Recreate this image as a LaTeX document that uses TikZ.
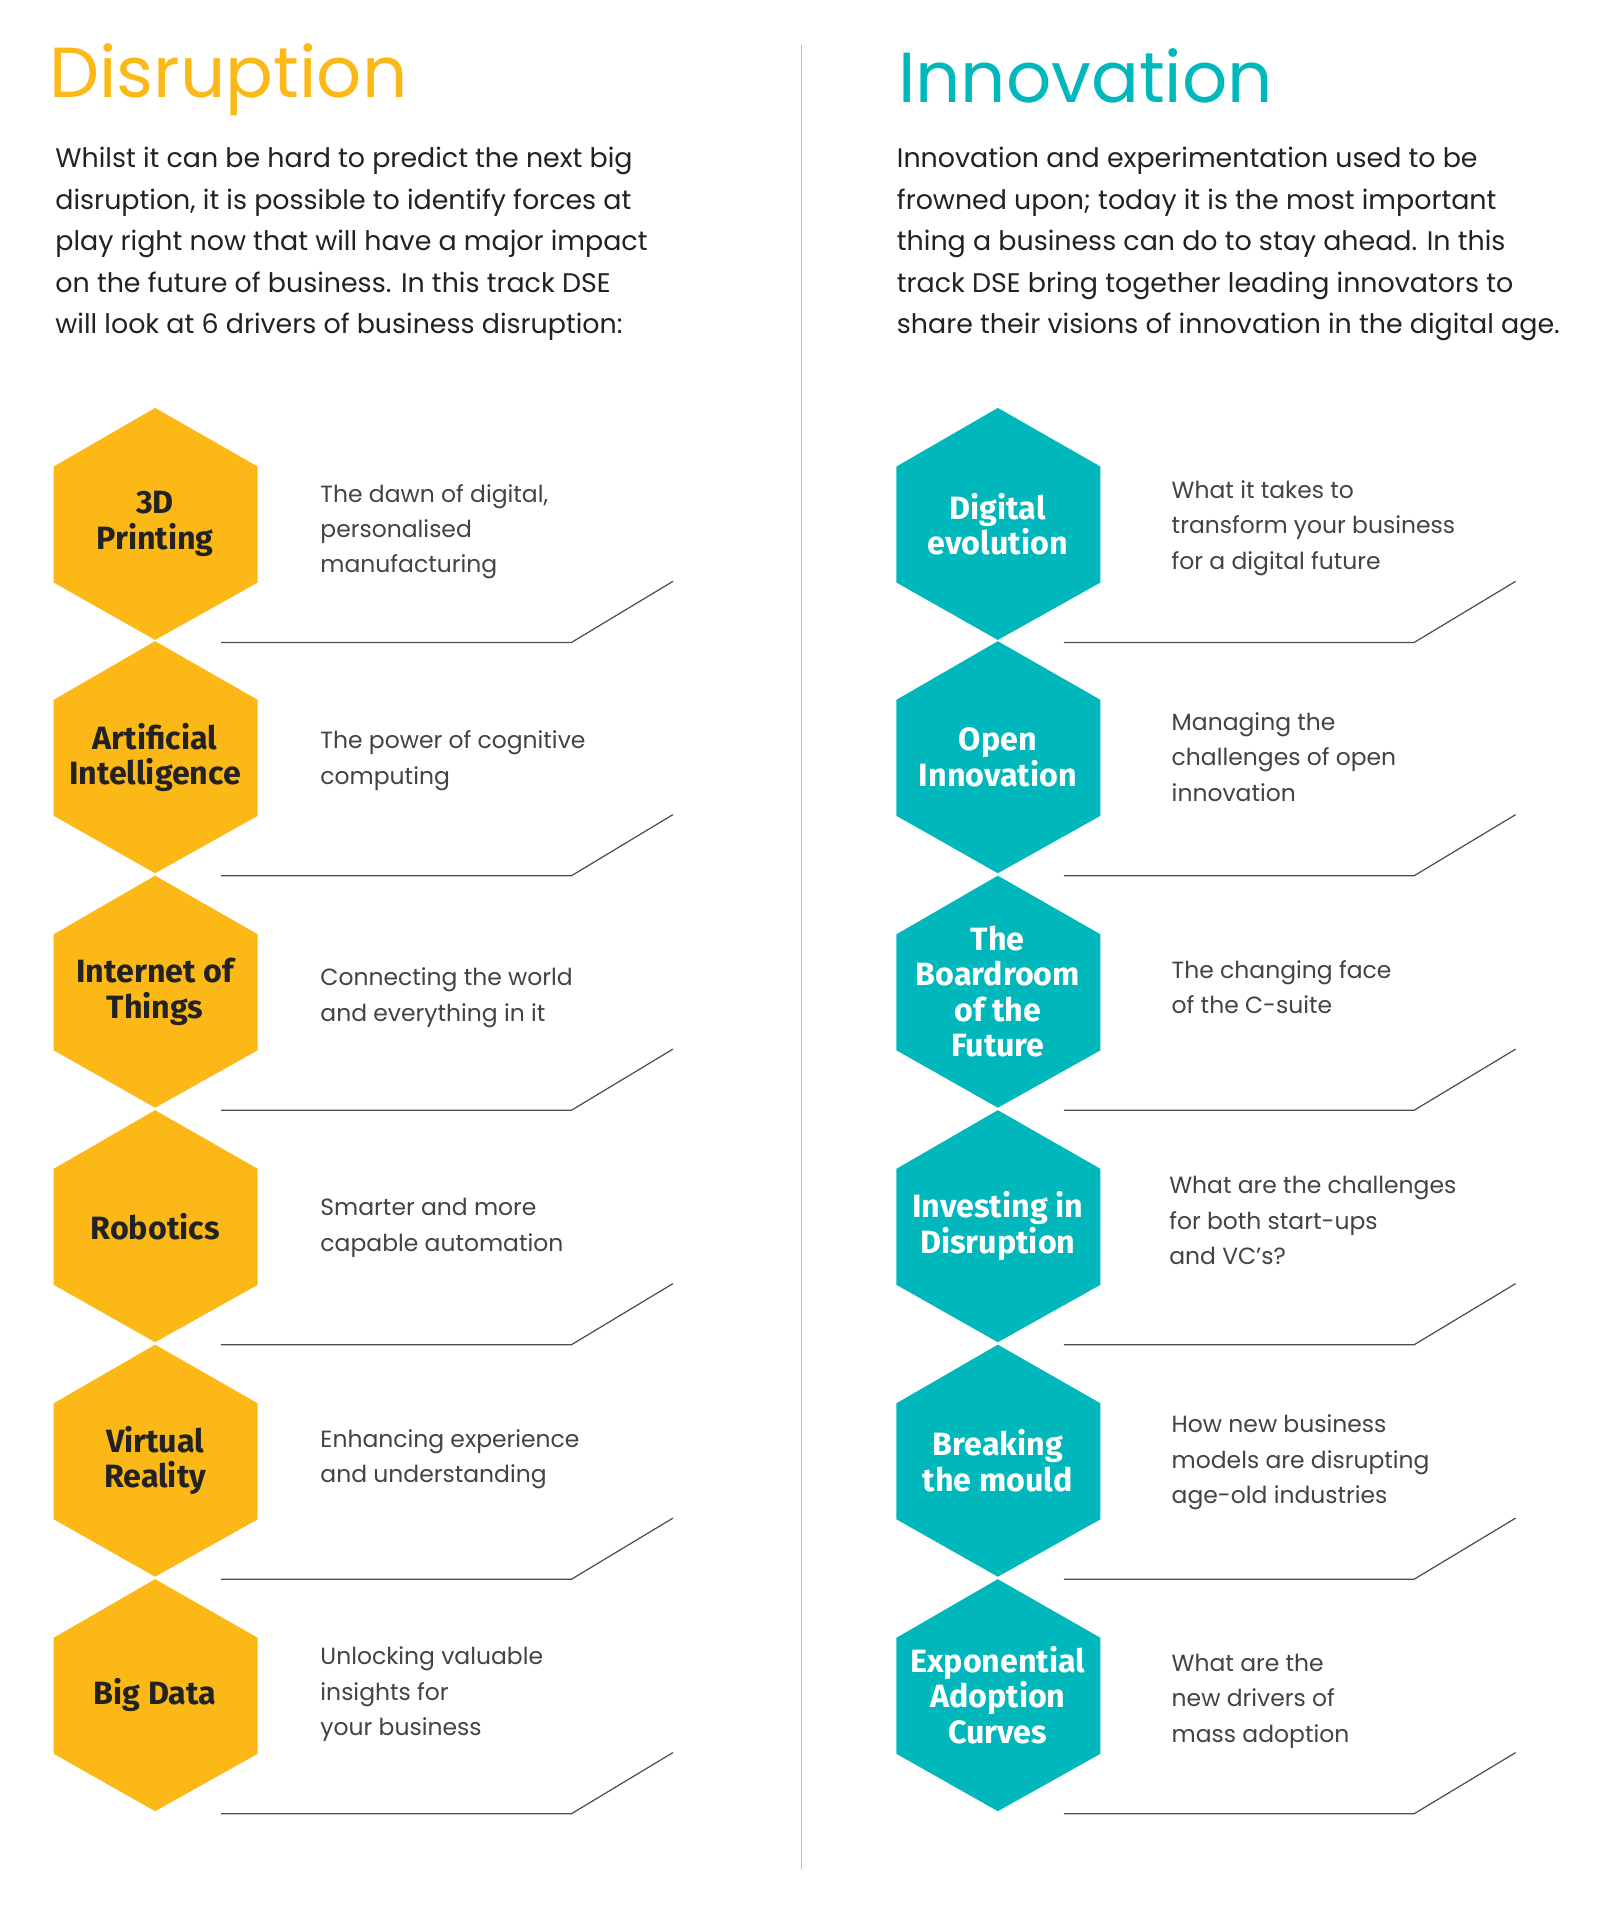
\documentclass[tikz,border=0pt]{standalone}
\usepackage{fontspec}
\setmainfont{Poppins}
\newfontfamily\hexfont{Fira Sans}
\definecolor{orng}{HTML}{FBB817}
\definecolor{teal}{HTML}{00B8BC}
\definecolor{txt}{HTML}{222222}
\begin{document}
\begin{tikzpicture}[x=0.5pt,y=-0.5pt,
  title/.style={anchor=base west,inner sep=0,font=\fontsize{29}{32}\selectfont},
  body/.style={anchor=north west,inner sep=0,align=left,text=txt,font=\fontsize{11}{17}\selectfont},
  desc/.style={anchor=north west,inner sep=0,align=left,text=txt!85,font=\fontsize{9.6}{14.5}\selectfont},
  lab/.style={inner sep=0,align=center,font=\hexfont\bfseries\fontsize{13.2}{14.5}\selectfont},
  conn/.style={draw=txt!80,line width=0.5pt}]
\useasboundingbox (0,0) rectangle (1310,1568);
\fill[white] (0,0) rectangle (1310,1568);
\draw[gray!50,line width=0.5pt] (656,37) -- (656,1530);
\node[title,text=orng] (t1) at (40,80) {Disruption};
\node[title,text=teal] (t2) at (735,84) {Innovation};
\node[body] (b1) at (45,120) {Whilst it can be hard to predict the next big\\disruption, it is possible to identify forces at\\play right now that will have a major impact\\on the future of business. In this track DSE\\will look at 6 drivers of business disruption:};
\node[body] (b2) at (734,120) {Innovation and experimentation used to be\\frowned upon; today it is the most important\\thing a business can do to stay ahead. In this\\track DSE bring together leading innovators to\\share their visions of innovation in the digital age.};
\newcommand{\hexrow}[9]{%
 % #1 name, #2 cx, #3 cy, #4 colour, #5 text colour, #6 label, #7 desc x, #8 desc y, #9 desc
 \fill[#4] (#2,#3-95) -- (#2+84,#3-47) -- (#2+84,#3+48) -- (#2,#3+95) -- (#2-83,#3+48) -- (#2-83,#3-47) -- cycle;
 \node[lab,text=#5] (#1) at (#2,#3) {#6};
 \node[desc] (#1d) at (#7,#8-8) {#9};
 \coordinate (#1a) at (#2+54,#3+97);
 \coordinate (#1b) at (#2+341,#3+97);
 \coordinate (#1c) at (#2+424,#3+47);
 \draw[conn] (#1a) -- (#1b) -- (#1c);}
\hexrow{l1}{127}{429}{orng}{txt}{3D\\Printing}{262}{404}{The dawn of digital,\\personalised\\manufacturing}
\hexrow{l2}{127}{620}{orng}{txt}{Artificial\\Intelligence}{262}{606}{The power of cognitive\\computing}
\hexrow{l3}{127}{812}{orng}{txt}{Internet of\\Things}{262}{800}{Connecting the world\\and everything in it}
\hexrow{l4}{127}{1004}{orng}{txt}{Robotics}{262}{989}{Smarter and more\\capable automation}
\hexrow{l5}{127}{1196}{orng}{txt}{Virtual\\Reality}{262}{1178}{Enhancing experience\\and understanding}
\hexrow{l6}{127}{1388}{orng}{txt}{Big Data}{262}{1356}{Unlocking valuable\\insights for\\your business}
\hexrow{r1}{817}{429}{teal}{white}{Digital\\evolution}{959}{401}{What it takes to\\transform your business\\for a digital future}
\hexrow{r2}{817}{620}{teal}{white}{Open\\Innovation}{959}{591}{Managing the\\challenges of open\\innovation}
\hexrow{r3}{817}{812}{teal}{white}{The\\Boardroom\\of the\\Future}{959}{794}{The changing face\\of the C-suite}
\hexrow{r4}{817}{1004}{teal}{white}{Investing in\\Disruption}{957}{971}{What are the challenges\\for both start-ups\\and VC’s?}
\hexrow{r5}{817}{1196}{teal}{white}{Breaking\\the mould}{959}{1166}{How new business\\models are disrupting\\age-old industries}
\hexrow{r6}{817}{1388}{teal}{white}{Exponential\\Adoption\\Curves}{959}{1362}{What are the\\new drivers of\\mass adoption}
\end{tikzpicture}
\end{document}
